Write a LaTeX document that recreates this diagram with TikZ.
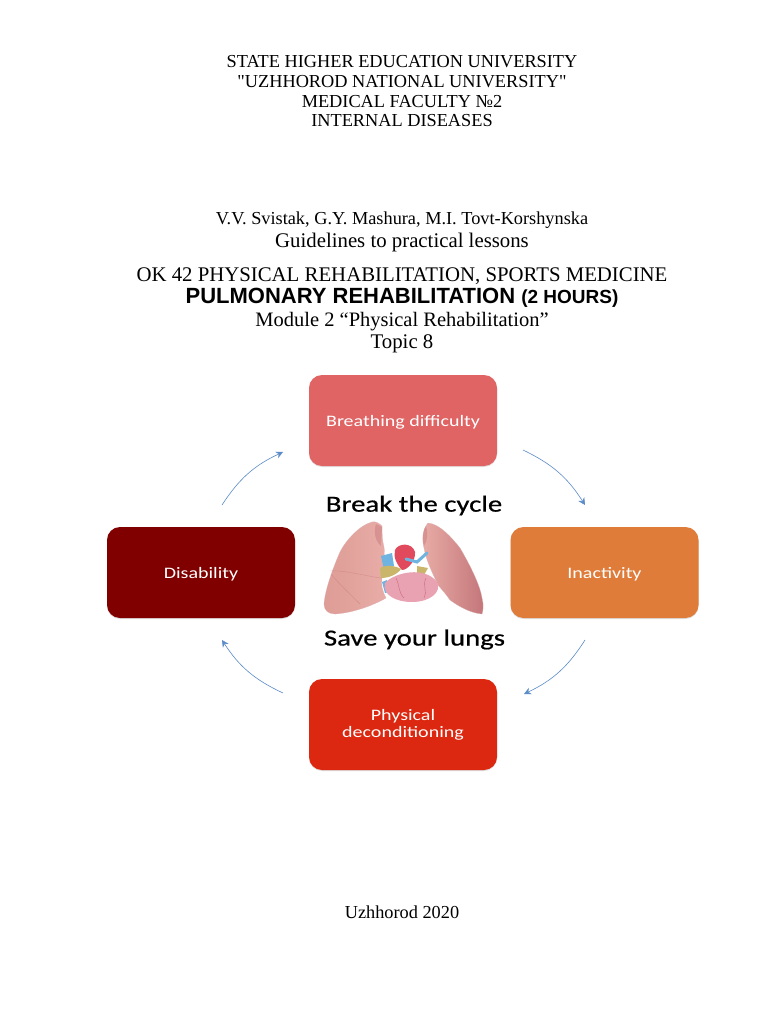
\documentclass[tikz,border=0pt]{standalone}
\usepackage{fontspec}
\setmainfont{Liberation Serif}
\setsansfont{Liberation Sans}
\newfontfamily\plainfont{Liberation Serif}
\newfontfamily\boxfont[FakeStretch=1.25]{Carlito}
\newfontfamily\sloganfont[FakeStretch=1.25,FakeBold=0.6]{Carlito}
\newcommand{\lowtext}[1]{\raisebox{-5.5pt}[0pt][0pt]{#1}}
\usetikzlibrary{arrows.meta}
\usetikzlibrary{shadows}
\definecolor{breathcol}{HTML}{E06464}
\definecolor{inactcol}{HTML}{E07C3A}
\definecolor{disabcol}{HTML}{800000}
\definecolor{decondcol}{HTML}{DC2810}
\definecolor{arrowcol}{HTML}{5B8BC8}
\definecolor{lunglight}{HTML}{E8ACA6}
\definecolor{lungmid}{HTML}{DE9C96}
\definecolor{lungdark}{HTML}{C4767A}
\definecolor{heartcol}{HTML}{E9A2B2}
\definecolor{heartline}{HTML}{C96A80}
\definecolor{heartred}{HTML}{E04A5C}
\definecolor{vesselcol}{HTML}{6FB4E0}
\definecolor{fatcol}{HTML}{C9B66A}
\begin{document}
\begin{tikzpicture}[
		x=1pt, y=-1pt,
		arrow/.style={arrowcol, semithick, -{Stealth[length=7pt,width=7pt]}},
		block/.style={rounded corners=13pt, minimum width=188pt, minimum height=91pt, align=center, text=white, inner sep=0pt, font=\boxfont\fontsize{16}{17}\selectfont, drop shadow={shadow xshift=0pt, shadow yshift=-1pt, opacity=0.25}},
		title/.style={font=\fontsize{18.3}{20}\selectfont, inner sep=0pt},
		bigtitle/.style={font=\fontsize{20.8}{23}\selectfont, inner sep=0pt},
		slogan/.style={font=\sloganfont\fontsize{23}{26}\selectfont, inner sep=0pt},
		lungl/.style={left color=lungmid, right color=lunglight, draw=lungdark!60, very thin},
		lungr/.style={left color=lunglight, right color=lungdark, draw=lungdark!60, very thin},
	]
	\useasboundingbox (0,0) rectangle (768,1024);
	\fill[white] (0,0) rectangle (768,1024);

	% heading
	\node (univ) [title] at (402,62) {STATE HIGHER EDUCATION UNIVERSITY};
	\node (uzh) [title] at (402,82) {\plainfont"UZHHOROD NATIONAL UNIVERSITY"};
	\node (fac) [title] at (402,102) {MEDICAL FACULTY №2};
	\node (dis) [title] at (402,121) {INTERNAL DISEASES};
	\node (auth) [title] at (402,220.5) {V.V. Svistak, G.Y. Mashura, M.I. Tovt-Korshynska};
	\node (guide) [bigtitle] at (402,242) {Guidelines to practical lessons};
	\node (ok) [bigtitle] at (402,276) {OK 42 PHYSICAL REHABILITATION, SPORTS MEDICINE};
	\node (pulm) [inner sep=0pt] at (402,298) {\sffamily\bfseries\fontsize{22}{24}\selectfont PULMONARY REHABILITATION \fontsize{19}{24}\selectfont (2 HOURS)};
	\node (mod) [inner sep=0pt, font=\fontsize{20.5}{23}\selectfont] at (402,321.5) {Module 2 “Physical Rehabilitation”};
	\node (topic) [bigtitle] at (402,344) {Topic 8};
	\node (year) [title] at (402,912) {Uzhhorod 2020};

	% cycle
	\node (breath) [block, fill=breathcol] at (403,420.5) {\lowtext{Breathing difficulty}};
	\node (inact) [block, fill=inactcol] at (604.5,572.5) {\lowtext{Inactivity}};
	\node (decond) [block, fill=decondcol] at (403,724.5) {Physical\\deconditioning};
	\node (disab) [block, fill=disabcol] at (201,572.5) {\lowtext{Disability}};

	\coordinate (a1) at (523,450);
	\coordinate (a2) at (585,505);
	\coordinate (b1) at (585,640);
	\coordinate (b2) at (524,694);
	\coordinate (c1) at (283,693);
	\coordinate (c2) at (222,640);
	\coordinate (d1) at (222,505);
	\coordinate (d2) at (283,452);
	\draw[arrow] (a1) to[bend left=16] (a2);
	\draw[arrow] (b1) to[bend left=16] (b2);
	\draw[arrow] (c1) to[bend left=16] (c2);
	\draw[arrow] (d1) to[bend left=16] (d2);

	\node (brk) [slogan] at (414,505.5) {Break the cycle};
	\node (save) [slogan] at (414.5,639.5) {Save your lungs};

	% lungs
	\draw[lungl] (372,522) .. controls (360,525) and (346,540) .. (340,552) .. controls (333,568) and (325,590) .. (324,604) .. controls (324,610) and (328,614) .. (335,614) .. controls (352,613) and (372,606) .. (386,598) .. controls (382,590) and (381,585) .. (382,578) .. controls (384,565) and (385,555) .. (384,547) .. controls (382,540) and (382,530) .. (382,526) .. controls (379,523) and (375,521) .. (372,522) -- cycle;
	\draw[lungr] (428,523) .. controls (440,524) and (452,538) .. (460,548) .. controls (470,565) and (480,585) .. (482,598) .. controls (484,605) and (483,611) .. (482,614) .. controls (470,613) and (458,606) .. (450,600) .. controls (446,594) and (442,590) .. (438,585) .. controls (432,572) and (426,560) .. (424,548) .. controls (422,540) and (422,530) .. (428,523) -- cycle;
	\fill[lungdark, opacity=0.45] (376,524) .. controls (374,530) and (374,540) .. (381,546) -- (382,527) -- cycle;
	\fill[lungdark, opacity=0.45] (426,526) .. controls (428,532) and (428,540) .. (424,546) .. controls (422,538) and (423,530) .. (426,526) -- cycle;
	\draw[lungdark, opacity=0.5, thin] (330,571) .. controls (345,570) and (365,576) .. (381,578);
	\draw[lungdark, opacity=0.5, thin] (331,574) .. controls (340,585) and (350,594) .. (360,604);
	% heart
	\fill[vesselcol] (381,556) -- (392,553) -- (394,566) -- (384,570) -- cycle;
	\fill[vesselcol] (382,582) -- (387,580) -- (390,592) -- (385,593) -- cycle;
	\fill[heartred] (395,550) .. controls (398,543) and (412,542) .. (415,552) .. controls (416,560) and (408,570) .. (402,570) .. controls (397,565) and (393,557) .. (395,550) -- cycle;
	\fill[fatcol] (380,568) .. controls (388,564) and (396,566) .. (401,569) .. controls (397,575) and (388,578) .. (381,578) -- cycle;
	\fill[fatcol] (417,566) -- (428,568) -- (424,575) -- (417,574) -- cycle;
	\fill[heartcol] (385,583) .. controls (395,572) and (425,566) .. (437,582) .. controls (442,592) and (430,602) .. (412,602) .. controls (396,602) and (382,595) .. (385,583) -- cycle;
	\draw[heartline, thin] (396,578) .. controls (400,586) and (398,592) .. (404,598);
	\draw[heartline, thin] (426,578) .. controls (422,586) and (428,592) .. (424,598);
	\draw[vesselcol, line width=3pt, line cap=round] (406,559) -- (417,562) -- (427,553);
\end{tikzpicture}
\end{document}
